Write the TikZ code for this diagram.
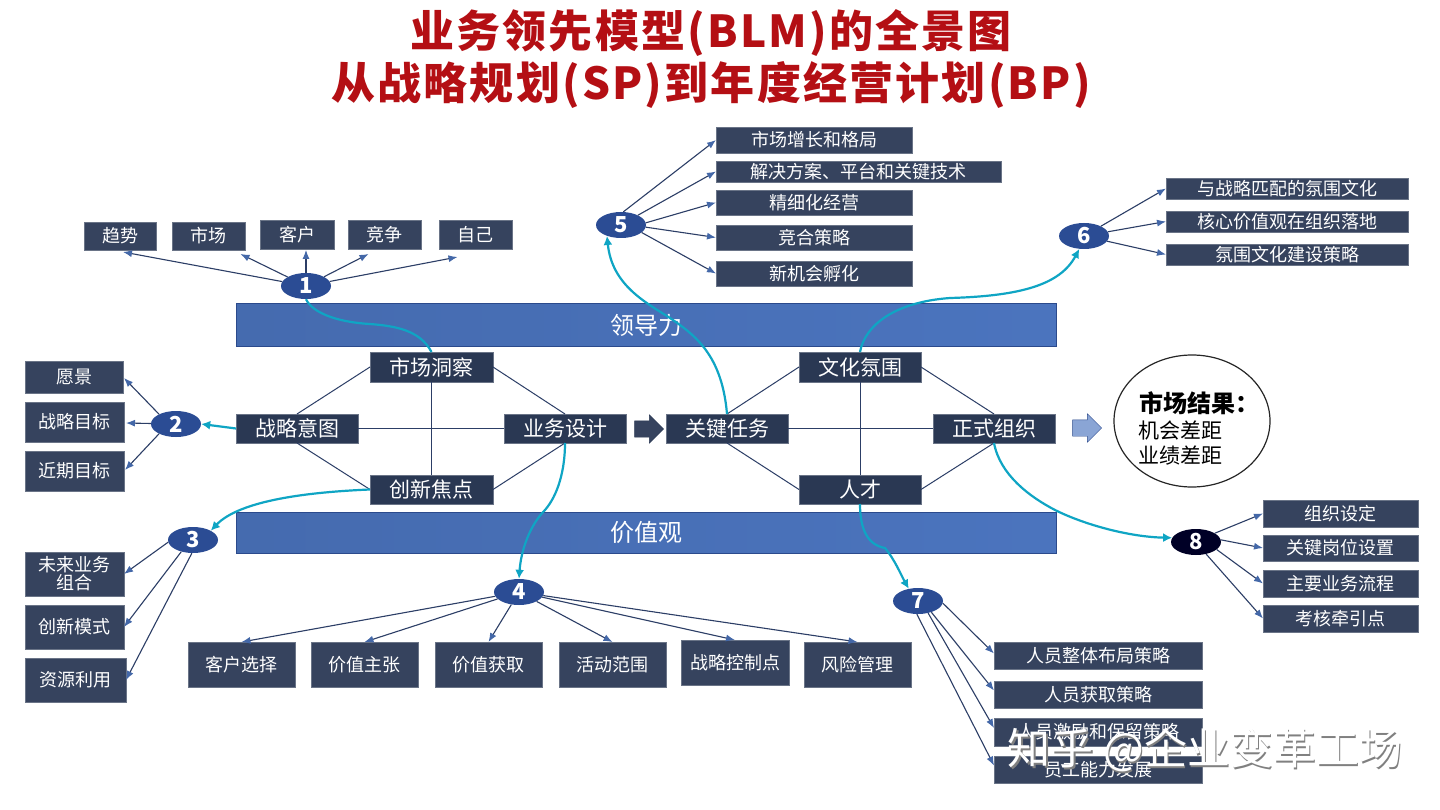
\documentclass[tikz,border=0pt]{standalone}
\usepackage{fontspec}
\setmainfont{Noto Sans CJK SC}
\newfontfamily\titlef[LetterSpace=5]{Noto Sans CJK SC}
\usetikzlibrary{arrows.meta,shapes.geometric,shapes.arrows}
\definecolor{boxc}{HTML}{36435E}
\definecolor{boxd}{HTML}{2A3853}
\definecolor{linec}{HTML}{2C3E66}
\definecolor{tipc}{HTML}{4468A8}
\definecolor{tealc}{HTML}{0FA5C4}
\definecolor{barc}{HTML}{4B74BE}
\definecolor{barl}{HTML}{2B4A8C}
\definecolor{numc}{HTML}{2B4C94}
\definecolor{titlec}{HTML}{B40F14}
\newcommand{\fs}[1]{\fontsize{#1}{#1}\selectfont}
\tikzset{
  bx/.style={draw=boxd!70!white,line width=.6pt,fill=boxc,text=white,inner sep=0pt,outer sep=0pt,align=center,font=\fs{18}},
  mid/.style={bx,fill=boxd,font=\fs{21}},
  band/.style={draw=barl,line width=1pt,left color=barc!92!black,right color=barc,text=white,inner sep=0pt,font=\fs{24}},
  num/.style={ellipse,fill=numc,text=white,inner sep=0pt,minimum width=50pt,minimum height=26pt,font=\bfseries\fs{22}},
  thin/.style={draw=linec,line width=1pt},
  ray/.style={draw=linec,line width=1.1pt,-{Latex[length=9pt,width=7pt,color=tipc]}},
  flow/.style={draw=tealc,line width=2.2pt,-{Latex[length=9pt,width=9pt]}},
  flowp/.style={draw=tealc,line width=2.2pt},
  bigarrow/.style={single arrow,inner xsep=0pt,inner ysep=8pt,single arrow head extend=6pt,single arrow head indent=0pt,minimum width=28pt,minimum height=29pt}
}
% name, x1, y1, x2, y2, style, text
\newcommand{\bxn}[7]{%
  \pgfmathsetmacro{\bw}{#4-#2}\pgfmathsetmacro{\bh}{#5-#3}%
  \pgfmathsetmacro{\bcx}{(#2+#4)/2}\pgfmathsetmacro{\bcy}{(#3+#5)/2}%
  \node[#6,minimum width=\bw pt,minimum height=\bh pt] (#1) at (\bcx,\bcy) {#7};}
\begin{document}
\begin{tikzpicture}[x=1pt,y=-1pt]
\useasboundingbox (0,0) rectangle (1440,810);
\fill[white] (0,0) rectangle (1440,810);
% title
\node[text=titlec,font=\titlef\bfseries\fs{44},inner sep=0pt] (t1) at (711,33) {业务领先模型(BLM)的全景图};
\node[text=titlec,font=\titlef\bfseries\fs{44},inner sep=0pt] (t2) at (711,85) {从战略规划(SP)到年度经营计划(BP)};
% bands
\bxn{lead}{236}{304}{1056}{346}{band}{领导力}
\bxn{vals}{236}{512}{1056}{553}{band}{价值观}
% core nodes
\bxn{a1}{370}{352}{493}{382}{mid}{市场洞察}
\bxn{a2}{236}{414}{358}{443}{mid}{战略意图}
\bxn{a3}{504}{414}{626}{443}{mid}{业务设计}
\bxn{a4}{370}{475}{493}{504}{mid}{创新焦点}
\bxn{b1}{799}{352}{921}{382}{mid}{文化氛围}
\bxn{b2}{666}{414}{788}{443}{mid}{关键任务}
\bxn{b3}{933}{414}{1055}{443}{mid}{正式组织}
\bxn{b4}{799}{475}{921}{504}{mid}{人才}
\draw[thin] (a2.north)--(a1.west) (a1.east)--(a3.north) (a2.south)--(a4.west) (a4.east)--(a3.south);
\draw[thin] (a2.east)--(a3.west) (a1.south)--(a4.north);
\draw[thin] (b2.north)--(b1.west) (b1.east)--(b3.north) (b2.south)--(b4.west) (b4.east)--(b3.south);
\draw[thin] (b2.east)--(b3.west) (b1.south)--(b4.north);
% big arrows
\node[bigarrow,fill=boxc,draw=boxd] (ar1) at (645,429) {};
\node[bigarrow,fill=barc!65!white,draw=barl] (ar2) at (1083,428) {};
% result ellipse
\node[ellipse,draw=black!85,line width=1.2pt,minimum width=156pt,minimum height=132pt,inner sep=0pt] (res) at (1192,421) {};
\node[anchor=west,inner sep=0pt,font=\bfseries\fs{24}] (r1) at (1139,403) {市场结果：};
\node[anchor=west,inner sep=0pt,font=\fs{21}] (r2) at (1138,430) {机会差距};
\node[anchor=west,inner sep=0pt,font=\fs{21}] (r3) at (1138,456) {业绩差距};
% number nodes
\node[num] (n1) at (306,286) {1};
\node[num] (n2) at (176,424) {2};
\node[num] (n3) at (193,540) {3};
\node[num] (n4) at (519,592) {4};
\node[num] (n5) at (621,225) {5};
\node[num] (n6) at (1084,236) {6};
\node[num] (n7) at (918,601) {7};
\node[num,fill=black!85!blue] (n8) at (1196,542) {8};
% top group
\bxn{c1}{84}{222}{156}{250}{bx}{趋势}
\bxn{c2}{172}{222}{245}{250}{bx}{市场}
\bxn{c3}{260}{220}{334}{249}{bx}{客户}
\bxn{c4}{348}{220}{421}{249}{bx}{竞争}
\bxn{c5}{439}{220}{512}{249}{bx}{自己}
\draw[ray] (n1) -- ([shift={(3,2)}]c1.south);
\draw[ray] (n1) -- ([shift={(32,4)}]c2.south);
\draw[ray] (n1) -- ([shift={(9,1)}]c3.south);
\draw[ray] (n1) -- ([shift={(-16,5)}]c4.south);
\draw[ray] (n1) -- ([shift={(-18,8)}]c5.south);
% left groups
\bxn{d1}{25}{361}{123}{393}{bx}{愿景}
\bxn{d2}{25}{402}{124}{442}{bx}{战略目标}
\bxn{d3}{25}{451}{124}{491}{bx}{近期目标}
\draw[ray] (n2.150) -- ([shift={(1,1)}]d1.east);
\draw[ray] (n2) -- ([shift={(2,1)}]d2.east);
\draw[ray] (n2.210) -- ([shift={(1,-1)}]d3.east);
\bxn{e1}{25}{552}{124}{596}{bx}{未来业务\\组合}
\bxn{e2}{25}{605}{124}{649}{bx}{创新模式}
\bxn{e3}{25}{658}{126}{702}{bx}{资源利用}
\draw[ray] (n3.185) -- (e1.east);
\draw[ray] (n3.225) -- (e2.east);
\draw[ray] (n3.265) -- (e3.east);
% bottom group
\bxn{f1}{188}{642}{295}{687}{bx}{客户选择}
\bxn{f2}{311}{642}{418}{687}{bx}{价值主张}
\bxn{f3}{435}{642}{542}{687}{bx}{价值获取}
\bxn{f4}{559}{642}{666}{687}{bx}{活动范围}
\bxn{f5}{681}{640}{789}{685}{bx}{战略控制点}
\bxn{f6}{804}{642}{911}{687}{bx}{风险管理}
\draw[ray] (n4) -- (f1.north);
\draw[ray] (n4) -- (f2.north);
\draw[ray] (n4) -- (f3.north);
\draw[ray] (n4) -- (f4.north);
\draw[ray] (n4) -- (f5.north);
\draw[ray] (n4) -- (f6.north);
% group 5
\bxn{g1}{716}{127}{912}{153}{bx}{市场增长和格局}
\bxn{g2}{716}{161}{1001}{182}{bx}{解决方案、平台和关键技术}
\bxn{g3}{716}{190}{912}{215}{bx}{精细化经营}
\bxn{g4}{716}{225}{912}{250}{bx}{竞合策略}
\bxn{g5}{716}{261}{912}{286}{bx}{新机会孵化}
\draw[ray] (n5.80) -- (g1.west);
\draw[ray] (n5.30) -- (g2.west);
\draw[ray] (n5.5) -- (g3.west);
\draw[ray] (n5.355) -- (g4.west);
\draw[ray] (n5.340) -- (g5.west);
% group 6
\bxn{h1}{1166}{178}{1408}{199}{bx}{与战略匹配的氛围文化}
\bxn{h2}{1166}{211}{1408}{232}{bx}{核心价值观在组织落地}
\bxn{h3}{1166}{244}{1408}{265}{bx}{氛围文化建设策略}
\draw[ray] (n6) -- (h1.west);
\draw[ray] (n6) -- (h2.west);
\draw[ray] (n6) -- (h3.west);
% group 7
\bxn{i1}{994}{642}{1202}{669}{bx}{人员整体布局策略}
\bxn{i2}{994}{681}{1202}{708}{bx}{人员获取策略}
\bxn{i3}{994}{718}{1202}{746}{bx}{人员激励和保留策略}
\bxn{i4}{994}{756}{1202}{783}{bx}{员工能力发展}
\draw[ray] (n7.355) -- ([shift={(0,-2)}]i1.west);
\draw[ray] (n7.320) -- ([shift={(0,-4)}]i2.west);
\draw[ray] (n7.310) -- ([shift={(0,-4)}]i3.west);
\draw[ray] (n7.265) -- ([shift={(0,-4)}]i4.west);
% group 8
\bxn{j1}{1263}{500}{1418}{527}{bx}{组织设定}
\bxn{j2}{1263}{535}{1418}{561}{bx}{关键岗位设置}
\bxn{j3}{1263}{570}{1418}{597}{bx}{主要业务流程}
\bxn{j4}{1263}{605}{1418}{632}{bx}{考核牵引点}
\draw[ray] (n8.25) -- (j1.west);
\draw[ray] (n8.5) -- (j2.west);
\draw[ray] (n8.340) -- (j3.west);
\draw[ray] (n8.310) -- (j4.west);
% teal flows
\draw[flowp] (a1.north) .. controls (420,330) and (395,326) .. (370,324) .. controls (335,322) and (312,312) .. (n1.south);
\draw[flow] (a2.west) -- (n2.east);
\draw[flow] (a4.west) .. controls (310,492) and (240,500) .. (n3.north east);
\draw[flow] (a3.south) .. controls (565,470) and (558,495) .. (545,510) .. controls (530,525) and (521,550) .. (n4.north);
\draw[flow] (b2.north) .. controls (722,355) and (695,335) .. (670,318) .. controls (645,302) and (612,285) .. (n5.218);
\draw[flow] (b1.north) .. controls (865,325) and (895,302) .. (950,298) .. controls (1020,296) and (1060,285) .. (n6.250);
\draw[flow] (b4.south) .. controls (860,530) and (868,545) .. (885,548) .. controls (895,560) and (901,575) .. (n7.127);
\draw[flow] (b3.south) .. controls (1000,475) and (1030,497) .. (1055,510) .. controls (1085,525) and (1130,537) .. (n8.170);
% watermark
\node[text=black!50,font=\fs{43},inner sep=0pt] (wm2) at (1206.5,751.5) {知乎 @企业变革工场};
\node[text=white,font=\fs{43},inner sep=0pt] (wm) at (1205,750) {知乎 @企业变革工场};
\end{tikzpicture}
\end{document}
